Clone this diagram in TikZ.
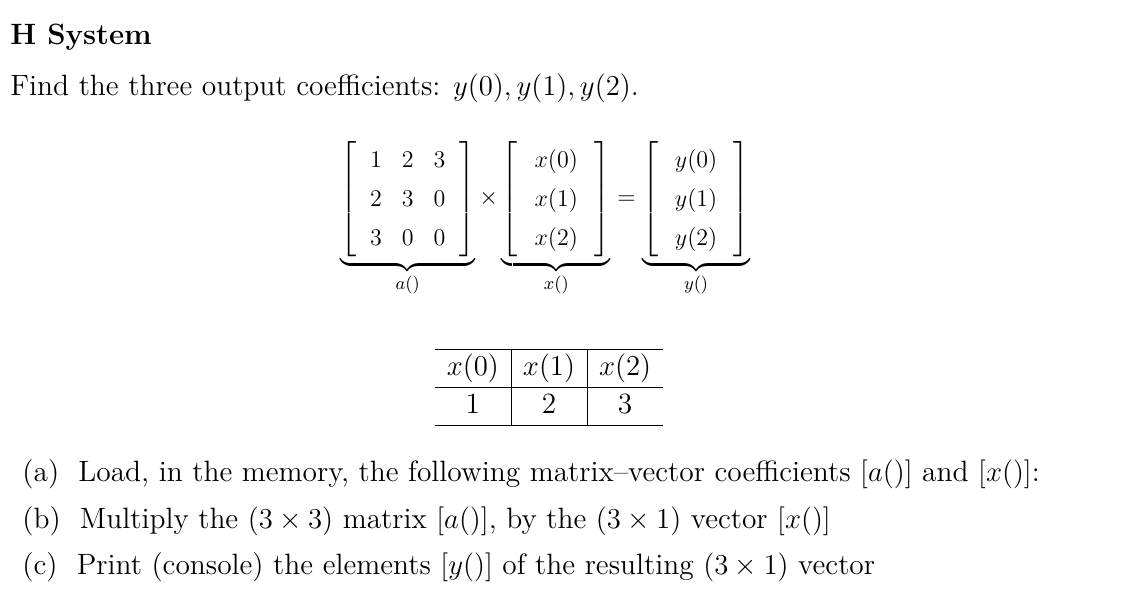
\documentclass[tikz,border=0pt]{standalone}
\usepackage{amsmath}
\begin{document}
\begin{tikzpicture}[x=0.5pt,y=-0.5pt,
  txt/.style={anchor=west,inner sep=0pt,font=\fontsize{14.7}{17.5}\selectfont},
  mat/.style={inner sep=0pt,font=\fontsize{12.6}{15}\selectfont}]
\useasboundingbox (0,0) rectangle (1128,614);
\node[txt] (title) at (10,37) {\textbf{H System}};
\node[txt] (find) at (10,88) {Find the three output coefficients: $y(0), y(1), y(2)$.};
\node[mat,anchor=north] (eq) at (545,140) {\renewcommand{\arraystretch}{1.3}$
\underbrace{\left[\begin{array}{ccc}\,1&2&3\,\\\,2&3&0\,\\\,3&0&0\,\end{array}\right]}_{a()}
\times
\underbrace{\left[\begin{array}{c}\;x(0)\;\\\;x(1)\;\\\;x(2)\;\end{array}\right]}_{x()}
=
\underbrace{\left[\begin{array}{c}\;y(0)\;\\\;y(1)\;\\\;y(2)\;\end{array}\right]}_{y()}$};
\node[txt,anchor=north] (tab) at (549,349) {\renewcommand{\arraystretch}{1.05}\begin{tabular}{c|c|c}
\hline
$x(0)$ & $x(1)$ & $x(2)$\\\hline
1 & 2 & 3\\\hline
\end{tabular}};
\node[txt] (a) at (22,474) {(a)\ \ Load, in the memory, the following matrix--vector coefficients $[a()]$ and $[x()]$:};
\node[txt] (b) at (22,521) {(b)\ \ Multiply the $(3\times3)$ matrix $[a()]$, by the $(3\times1)$ vector $[x()]$};
\node[txt] (c) at (22,567) {(c)\ \ Print (console) the elements $[y()]$ of the resulting $(3\times1)$ vector};
\end{tikzpicture}
\end{document}
